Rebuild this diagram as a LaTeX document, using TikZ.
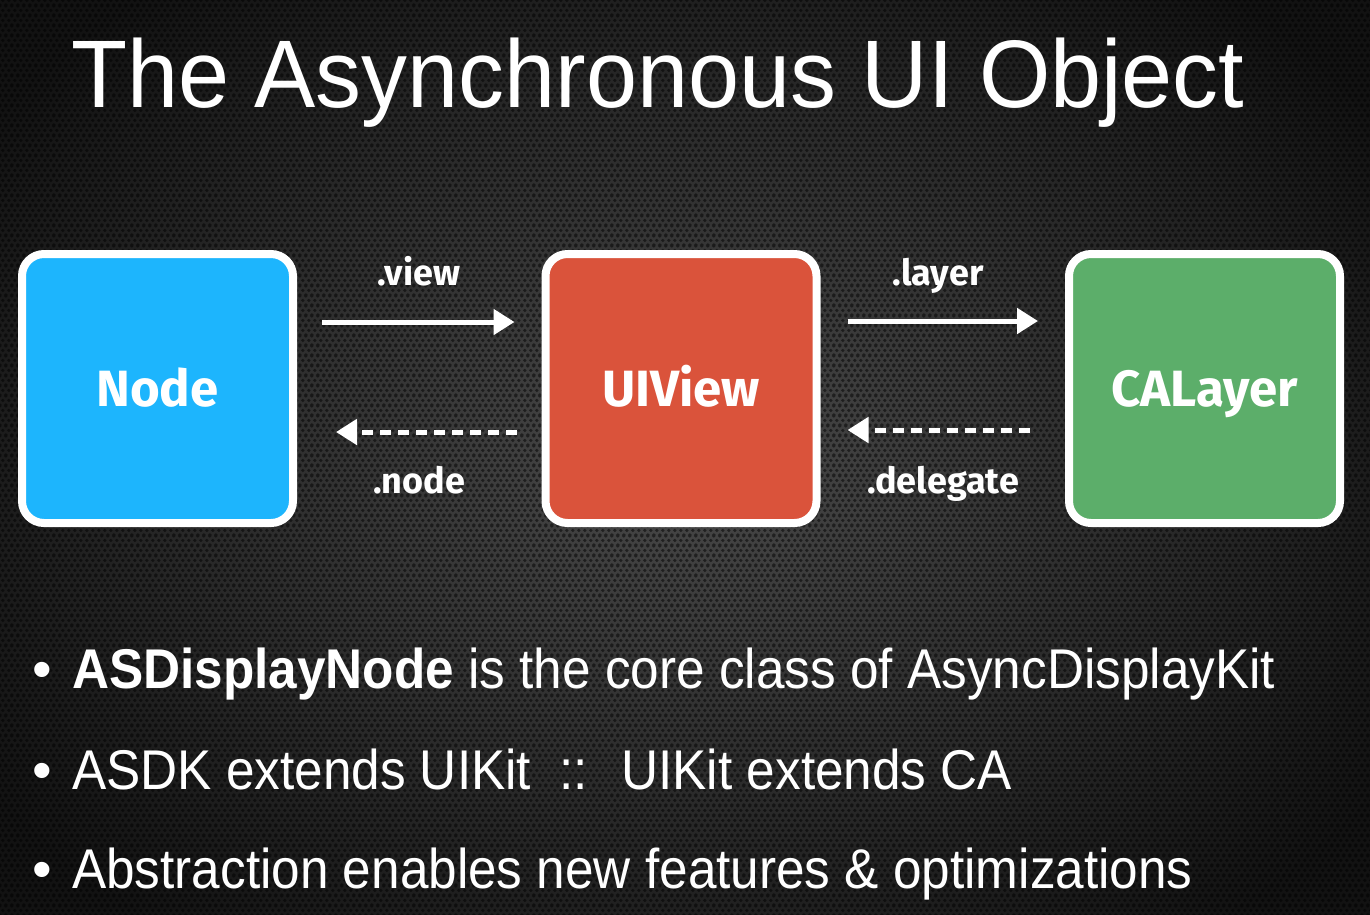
\documentclass[tikz,border=0pt]{standalone}
\usepackage{fontspec}
\setmainfont{Liberation Sans}
\newfontfamily\boxfont{Fira Sans}
\usetikzlibrary{arrows.meta,calc,patterns.meta}
\definecolor{nodeblue}{HTML}{1DB5FD}
\definecolor{viewred}{HTML}{DA533B}
\definecolor{layergreen}{HTML}{5CAE6A}
\definecolor{bgin}{HTML}{4A4A4A}
\definecolor{bgout}{HTML}{121212}
\tikzdeclarepattern{
  name=holes, type=uncolored,
  bottom left={(0pt,0pt)}, top right={(5.8pt,10pt)},
  tile size={(5.8pt,10pt)},
  code={
    \pgfpathcircle{\pgfpoint{0pt}{0pt}}{1.9pt}
    \pgfpathcircle{\pgfpoint{5.8pt}{0pt}}{1.9pt}
    \pgfpathcircle{\pgfpoint{0pt}{10pt}}{1.9pt}
    \pgfpathcircle{\pgfpoint{5.8pt}{10pt}}{1.9pt}
    \pgfpathcircle{\pgfpoint{2.9pt}{5pt}}{1.9pt}
    \pgfusepath{fill}}
}
\tikzset{
  objbox/.style={draw=white, line width=8pt, rounded corners=22pt, minimum width=271pt, minimum height=269pt, inner sep=0pt, text=white, text height=35pt, text depth=0pt, font=\boxfont\bfseries\fontsize{51}{55}\selectfont},
  linkarrow/.style={white, line width=5pt, -{Triangle[length=21pt,width=25pt]}},
  backarrow/.style={linkarrow, dash pattern=on 11pt off 7pt},
  linklabel/.style={text=white, inner sep=0pt, font=\boxfont\bfseries\fontsize{36}{40}\selectfont},
  bullettext/.style={text=white, inner sep=0pt, anchor=base west, font=\fontsize{56}{60}\selectfont},
  bulletdot/.style={text=white, inner sep=0pt, anchor=base, font=\fontsize{56}{60}\selectfont}
}
\begin{document}
\begin{tikzpicture}[x=1pt,y=-1pt]
\useasboundingbox (0,0) rectangle (1370,914);
\shade[inner color=bgin, outer color=bgout] (-150,-150) rectangle (1520,1064);
\fill[pattern=holes, pattern color=black, opacity=0.5] (0,0) rectangle (1370,914);
% title
\node[text=white, inner sep=0pt, anchor=base west, font=\fontsize{96}{100}\selectfont] (title) at (71,107) {\scalebox{0.956}[1]{The Asynchronous UI Object}};
% boxes
\node[objbox, fill=nodeblue] (node) at (157.5,388.5) {Node};
\node[objbox, fill=viewred] (uiview) at (681,388.5) {UIView};
\node[objbox, fill=layergreen] (calayer) at (1204.5,388.5) {CALayer};
% arrows
\draw[linkarrow, shorten <=25pt, shorten >=27pt] (node.east |- 0,322) -- (uiview.west |- 0,322);
\draw[backarrow, shorten <=25pt, shorten >=39pt] (uiview.west |- 0,432) -- (node.east |- 0,432);
\draw[linkarrow, shorten <=27pt, shorten >=27pt] (uiview.east |- 0,321) -- (calayer.west |- 0,321);
\draw[backarrow, shorten <=35pt, shorten >=27pt] (calayer.west |- 0,430) -- (uiview.east |- 0,430);
% labels
\node[linklabel, anchor=base] (lview) at (419,285) {.view};
\node[linklabel, anchor=base] (lnode) at (419,493) {.node};
\node[linklabel, anchor=base] (llayer) at (938,285) {.layer};
\node[linklabel, anchor=base] (ldelegate) at (943,493) {.delegate};
% bullets
\node[bulletdot] (b1) at (42,688) {•};
\node[bullettext] (t1) at (72,688) {\scalebox{0.916}[1]{\textbf{ASDisplayNode} is the core class of AsyncDisplayKit}};
\node[bulletdot] (b2) at (42,789) {•};
\node[bullettext] (t2) at (72,789) {\scalebox{0.916}[1]{ASDK extends UIKit \ :: \ UIKit extends CA}};
\node[bulletdot] (b3) at (42,888) {•};
\node[bullettext] (t3) at (72,888) {\scalebox{0.916}[1]{Abstraction enables new features \& optimizations}};
\end{tikzpicture}
\end{document}
